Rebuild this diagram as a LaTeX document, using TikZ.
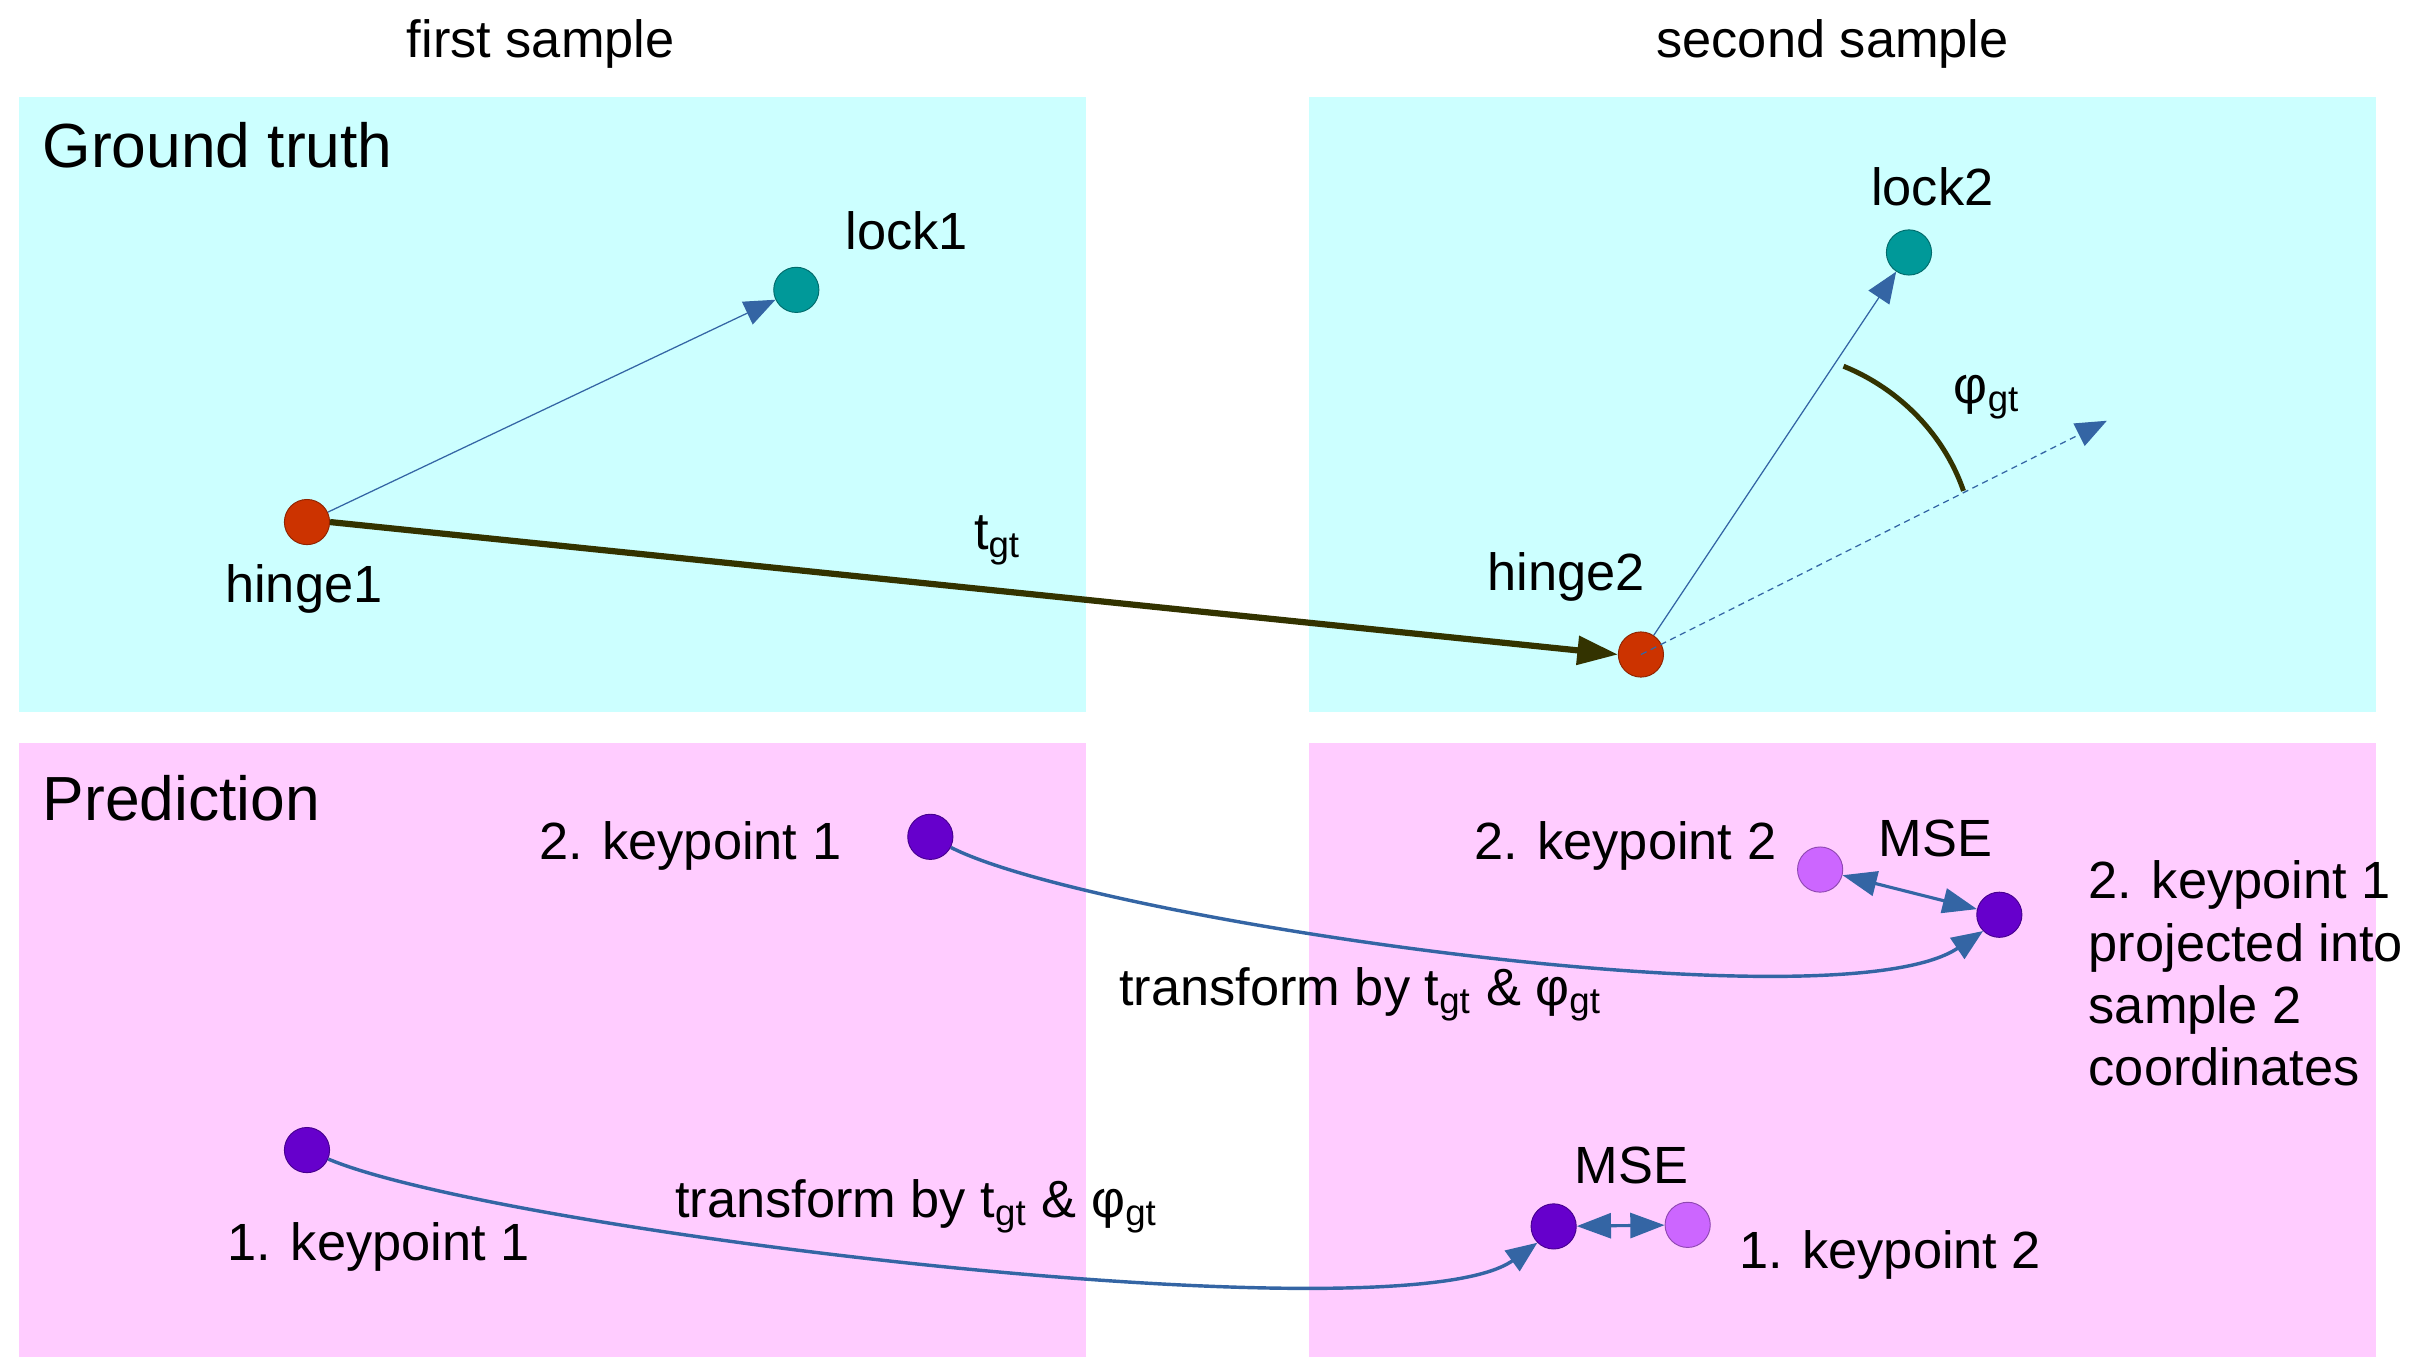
\documentclass[tikz,border=0pt]{standalone}
\usepackage{fontspec}
\setmainfont{Liberation Sans}
\usetikzlibrary{arrows.meta}
\definecolor{cyanbg}{HTML}{CCFFFF}
\definecolor{pinkbg}{HTML}{FFCCFF}
\definecolor{hred}{HTML}{CC3300}
\definecolor{lteal}{HTML}{009999}
\definecolor{kdark}{HTML}{6600CC}
\definecolor{klight}{HTML}{CC66FF}
\definecolor{ablue}{HTML}{3465A4}
\definecolor{olive}{HTML}{333300}
\begin{document}
\begin{tikzpicture}[x=0.5pt,y=-0.5pt,
  txt/.style={font=\fontsize{16.8}{20}\selectfont, inner sep=0pt},
  big/.style={font=\fontsize{20}{24}\selectfont, inner sep=0pt, anchor=west},
  dot/.style={circle, minimum size=14.5pt, inner sep=0pt, draw=#1!70!black, line width=0.3pt, fill=#1},
  thin/.style={draw=ablue, line width=0.4pt, -{Triangle[length=10pt,width=8pt]}},
  curv/.style={draw=ablue, line width=1.1pt, -{Triangle[length=10pt,width=8pt]}},
  mse/.style={draw=ablue, line width=1pt, {Triangle[length=11pt,width=8pt]}-{Triangle[length=11pt,width=8pt]}}]
\useasboundingbox (0,0) rectangle (1560,879);
\fill[cyanbg] (12,62) rectangle (697,457);
\fill[cyanbg] (840,62) rectangle (1525,457);
\fill[pinkbg] (12,477) rectangle (697,871);
\fill[pinkbg] (840,477) rectangle (1525,871);
\node[txt] (t1) at (347,28) {first sample};
\node[txt] (t2) at (1176,28) {second sample};
\node[big] (gt) at (27,93) {Ground truth};
\node[big] (pr) at (27,512) {Prediction};
% ground truth
\node[dot=hred] (h1) at (197,335) {};
\node[txt] (h1l) at (195,378) {hinge1};
\node[dot=lteal] (l1) at (511,186) {};
\node[txt] (l1l) at (582,148) {lock1};
\node[dot=hred] (h2) at (1053,420) {};
\node[txt] (h2l) at (1005,370) {hinge2};
\node[dot=lteal] (l2) at (1225,162) {};
\node[txt] (l2l) at (1240,120) {lock2};
\coordinate (dd) at (1352,270);
\draw[thin] (h1) -- (l1);
\draw[thin] (h2) -- (l2);
\draw[thin, dash pattern=on 2pt off 1.5pt] (h2.center) -- (dd);
\draw[olive, line width=2pt, -{Triangle[length=13pt,width=9pt]}] (h1.east) -- (h2.west);
\node[txt] (tgt) at (640,347) {t\textsubscript{gt}};
\draw[olive, line width=1.6pt] (1183,235) .. controls (1220,250) and (1248,280) .. (1260,315);
\node[txt] (phi) at (1275,255) {φ\textsubscript{gt}};
% prediction
\node[dot=kdark] (k21) at (597,537) {};
\node[txt] (k21l) at (443,543) {2. keypoint 1};
\node[dot=kdark] (k21p) at (1283,587) {};
\node[dot=klight] (k22) at (1168,558) {};
\node[txt] (k22l) at (1043,543) {2. keypoint 2};
\node[txt] (mse2) at (1242,538) {MSE};
\draw[mse] (k22) -- (k21p);
\node[txt, anchor=north west, align=left] (proj) at (1340,552) {2. keypoint 1\\projected into\\sample 2\\coordinates};
\draw[curv] (k21) .. controls (700,590) and (1180,660) .. (k21p.south west);
\node[txt] (tr2) at (873,638) {transform by t\textsubscript{gt} \& φ\textsubscript{gt}};
\node[dot=kdark] (k11) at (197,738) {};
\node[txt] (k11l) at (243,800) {1. keypoint 1};
\node[dot=kdark] (k11p) at (997,787) {};
\node[dot=klight] (k12) at (1083,786) {};
\node[txt] (mse1) at (1047,748) {MSE};
\node[txt] (k12l) at (1213,805) {1. keypoint 2};
\draw[mse] (k11p) -- (k12);
\draw[curv] (k11) .. controls (320,790) and (900,860) .. (k11p.south west);
\node[txt] (tr1) at (588,774) {transform by t\textsubscript{gt} \& φ\textsubscript{gt}};
\end{tikzpicture}
\end{document}
